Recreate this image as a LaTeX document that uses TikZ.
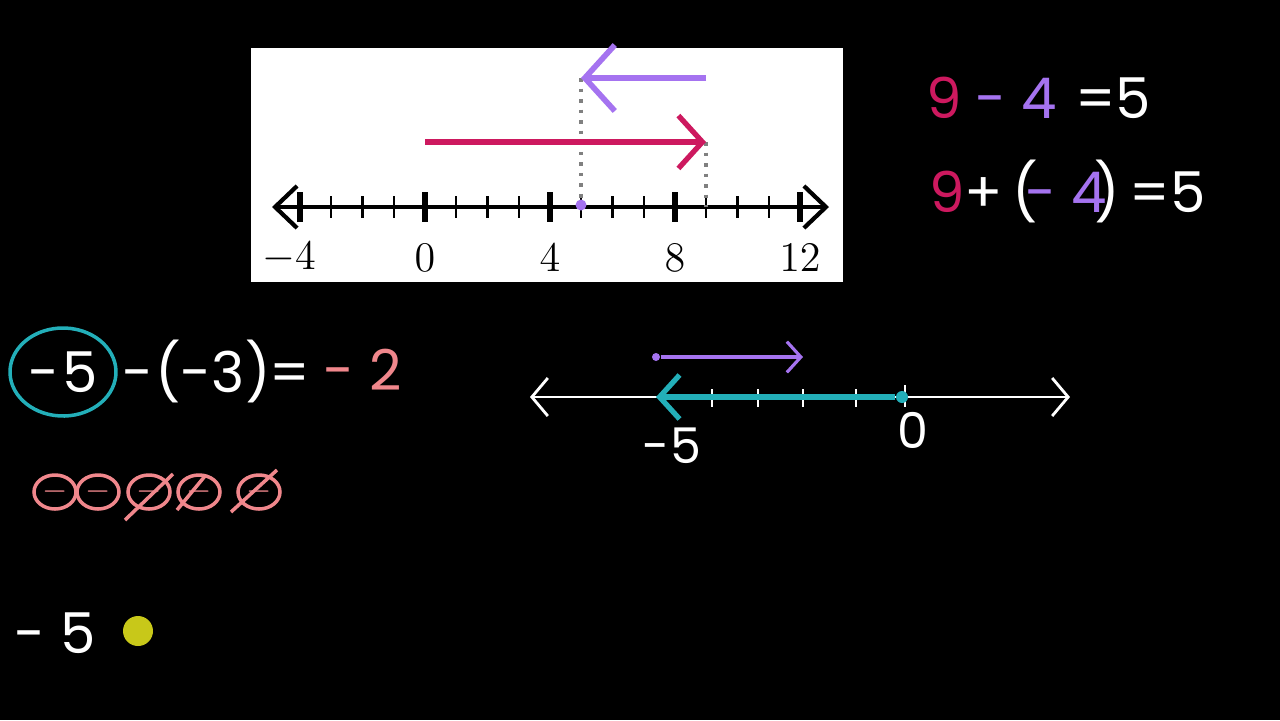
\documentclass[tikz,border=0pt]{standalone}
\usepackage{fontspec}
\usepackage{tikz}
\usetikzlibrary{arrows.meta, positioning, shapes.geometric}
\newfontfamily\hand{Poppins}
\definecolor{kcrimson}{RGB}{205,25,95}
\definecolor{kpurple}{RGB}{165,115,240}
\definecolor{kteal}{RGB}{35,175,185}
\definecolor{kpink}{RGB}{240,135,140}
\definecolor{kyellow}{RGB}{200,200,25}
\tikzset{
  hw/.style={text=white, font=\hand\fontsize{16}{18}\selectfont, inner sep=0pt, anchor=base},
  numlbl/.style={font=\fontsize{13}{15}\selectfont, inner sep=0pt},
  counter/.style={ellipse, draw=kpink, line width=1pt, minimum width=0.42cm, minimum height=0.34cm, inner sep=0pt, text=kpink, font=\fontsize{9}{9}\selectfont},
  barb/.style={-{Straight Barb[length=#1, width=2.2*#1]}},
}
\begin{document}
\begin{tikzpicture}[x=0.1mm, y=-0.1mm]
  % background and page size
  \fill[black] (0,0) rectangle (1280,720);
  \useasboundingbox (0,0) rectangle (1280,720);

  % ---- top panel: number line from -4 to 12
  \fill[white] (251,48) rectangle (843,282);
  \coordinate (nlL) at (272,207);
  \coordinate (nlR) at (829,207);
  \draw[line width=1.2pt, {Straight Barb[length=2.2mm, width=4.2mm]}-{Straight Barb[length=2.2mm, width=4.2mm]}] (nlL) -- (nlR);
  \foreach \v in {-4,...,12}{
    \pgfmathtruncatemacro{\m}{mod(\v+4,4)}
    \ifnum\m=0
      \draw[line width=1.6pt] (425+31.25*\v,192) -- (425+31.25*\v,222);
    \else
      \draw[line width=0.6pt] (425+31.25*\v,196) -- (425+31.25*\v,218);
    \fi
  }
  \node[numlbl] (lbm4) at (289,258) {$-4$};
  \node[numlbl] (lb0) at (425,258) {$0$};
  \node[numlbl] (lb4) at (550,258) {$4$};
  \node[numlbl] (lb8) at (675,258) {$8$};
  \node[numlbl] (lb12) at (800,258) {$12$};

  % start, turn and end points of the jumps
  \coordinate (p0) at (425,142);
  \coordinate (p9) at (706,142);
  \coordinate (q9) at (706,78);
  \coordinate (q5) at (581,78);
  \coordinate (a9) at (706,207);
  \node[circle, fill=kpurple, inner sep=0pt, minimum size=1.1mm] (a5) at (581,205) {};

  \draw[gray, dotted, line width=1pt] (q5) -- (a5);
  \draw[gray, dotted, line width=1pt] (p9) -- (a9);
  \draw[kcrimson, line width=1.5pt, barb=2.4mm] (p0) -- (p9);
  \draw[kpurple, line width=1.6pt, barb=3mm] (q9) -- (q5);

  % ---- equations on the right
  \node[hw, text=kcrimson] (e9a) at (944,118) {9};
  \node[hw, text=kpurple] (em4a) at (1016,118) {- 4};
  \node[hw] (eq5a) at (1113,118) {=5};
  \node[hw, text=kcrimson] (e9b) at (947,212) {9};
  \node[hw] (plb) at (1001,212) {+\,(};
  \node[hw, text=kpurple] (em4b) at (1066,212) {- 4};
  \node[hw] (eq5b) at (1150,212) {)\,=5};

  % ---- -5 - (-3) = -2
  \node[hw] (m5) at (63,392) {-\kern1pt5};
  \draw[kteal, line width=1pt] (63,372) ++(80:5.3mm and 4.4mm)
    arc[start angle=80, end angle=-288, x radius=5.3mm, y radius=4.4mm];
  \node[hw] (mm) at (138,392) {-};
  \node[hw] (m3) at (213,392) {(-3)};
  \node[hw] (meq) at (290,392) {=};
  \node[hw, text=kpink] (m2) at (363,390) {- 2};

  % counters
  \node[counter] (c1) at (55,492) {$-$};
  \node[counter] (c2) at (98,492) {$-$};
  \node[counter] (c3) at (149,492) {$-$};
  \node[counter] (c4) at (199,492) {$-$};
  \node[counter] (c5) at (259,492) {$-$};
  \draw[kpink, line width=1pt] ([shift={(-24,28)}]c3.center) -- ([shift={(24,-18)}]c3.center);
  \draw[kpink, line width=1pt] ([shift={(-22,18)}]c4.center) -- ([shift={(6,-16)}]c4.center);
  \draw[kpink, line width=1pt] ([shift={(-28,20)}]c5.center) -- ([shift={(18,-22)}]c5.center);

  % ---- -5 and the dot
  \node[hw] (n5) at (55,653) {- 5};
  \node[circle, fill=kyellow, inner sep=0pt, minimum size=3mm] (dot) at (138,631) {};

  % ---- second number line
  \coordinate (sL) at (530,397);
  \coordinate (sR) at (1070,397);
  \draw[white, line width=0.8pt, {Straight Barb[length=1.6mm, width=3.8mm]}-{Straight Barb[length=1.6mm, width=3.8mm]}] (sL) -- (sR);
  \foreach \x in {712,758,803,856}
    \draw[white, line width=0.8pt] (\x,389) -- (\x,407);
  \draw[white, line width=0.8pt] (905,385) -- (905,407);
  \node[circle, fill=kteal, inner sep=0pt, minimum size=1.2mm] (z0) at (902,397) {};
  \coordinate (z5) at (656,397);
  \draw[kteal, line width=1.5pt, barb=2mm] (z0) -- (z5);
  \node[hw, font=\hand\fontsize{14}{16}\selectfont] (lm5) at (672,463) {-5};
  \node[hw, font=\hand\fontsize{14}{16}\selectfont] (lz) at (913,448) {0};

  % jump of +3
  \node[circle, fill=kpurple, inner sep=0pt, minimum size=0.8mm] (j0) at (656,357) {};
  \coordinate (j3) at (803,357);
  \draw[kpurple, line width=0.9pt, barb=1.4mm] (j0) -- (j3);
\end{tikzpicture}
\end{document}
